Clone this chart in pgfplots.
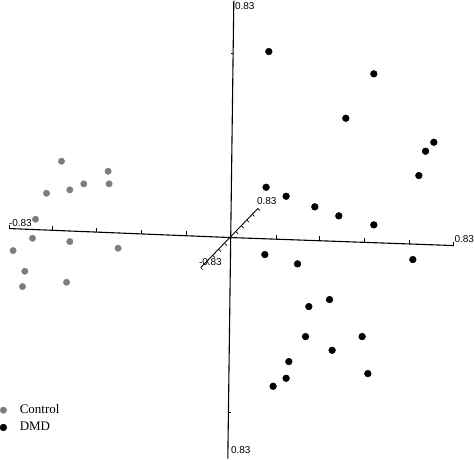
\documentclass[border=0pt]{standalone}
\usepackage{fontspec}
\setmainfont{Liberation Sans}
\newfontfamily\legfont{Liberation Serif}
\usepackage{pgfplots}
\pgfplotsset{compat=1.18}
\definecolor{ctrlgray}{RGB}{125,125,125}

\begin{document}
\begin{tikzpicture}
\begin{axis}[
  width=474pt, height=458pt, scale only axis,
  xmin=0, xmax=474, ymin=0, ymax=458,
  hide axis, clip=false,
  unbounded coords=jump,
  legend cell align=left,
  legend image code/.code={\draw[#1] plot coordinates {(0pt,0pt)};},
  legend style={draw=none, fill=none, at={(0.0,0.087)}, anchor=west,
    font=\legfont\fontsize{13}{15}\selectfont, row sep=3pt, column sep=11pt,
    inner xsep=0pt, inner ysep=0pt},
]
% samples
\addplot[only marks, mark=*, mark size=3.2pt, ctrlgray] coordinates {
(61.7,297.3) (108.3,287.3) (84,274.7) (109.3,274.7) (46.7,265.3) (70,268.7)
(35.7,239.3) (32.7,220.3) (70,217) (118.3,210.3) (13.3,208) (25,187.3)
(22.7,172) (66.7,176.3)
};
\addlegendentry{Control}
\addplot[only marks, mark=*, mark size=3.4pt, black] coordinates {
(269,407) (374,384.7) (346,340.3) (434,316.3) (425.7,307.3) (419,283)
(266.3,271.3) (286.3,262.3) (315,251.7) (339,242.7) (374,233.7) (265,204)
(297.7,194.7) (413,199) (329.7,159) (309,152) (305.7,122) (362.3,122)
(332.3,108.3) (289,97) (286.3,80.3) (273.3,72.3) (368,85)
};
\addlegendentry{DMD}

% axes of the projection
\addplot[black, line width=1.1pt, forget plot] coordinates {(10,230) (231,221) (454,213)};
\addplot[black, line width=1.1pt, forget plot] coordinates {(234,458) (228,0)};
\addplot[black, line width=0.9pt, forget plot] coordinates {(201,191) (258,250)};
% ticks on the horizontal axis
\addplot[black, line width=0.8pt, forget plot] coordinates {
(10,230) (10,234) (nan,nan)
(53,228.4) (53,232.4) (nan,nan)
(97,226.7) (97,230.7) (nan,nan)
(142,224.9) (142,228.9) (nan,nan)
(187,223.2) (187,227.2) (nan,nan)
(277,219.8) (277,223.8) (nan,nan)
(320,218.1) (320,222.1) (nan,nan)
(365,216.4) (365,220.4) (nan,nan)
(410,214.7) (410,218.7) (nan,nan)
(454,213) (454,217)
};
% ticks on the depth axis
\addplot[black, line width=0.7pt, forget plot] coordinates {
(236.4,226.8) (238.4,224.8) (nan,nan)
(241.8,232.6) (243.8,230.6) (nan,nan)
(247.2,238.4) (249.2,236.4) (nan,nan)
(252.6,244.2) (254.6,242.2) (nan,nan)
(258,250) (260,248) (nan,nan)
(225,215) (227,213) (nan,nan)
(219,209) (221,207) (nan,nan)
(213,203) (215,201) (nan,nan)
(207,197) (209,195) (nan,nan)
(201,191) (203,189)
};
% ticks on the vertical axis
\addplot[black, line width=0.8pt, forget plot] coordinates {
(233.3,405) (230.8,405) (nan,nan)
(228.6,46) (231.1,46)
};

% end labels
\node[anchor=west, inner sep=0pt, font=\fontsize{10}{11}\selectfont] at (axis cs:235,452) {0.83};
\node[anchor=west, inner sep=0pt, font=\fontsize{10}{11}\selectfont] at (axis cs:231,9) {0.83};
\node[anchor=west, inner sep=0pt, font=\fontsize{10}{11}\selectfont] at (axis cs:9,236) {-0.83};
\node[anchor=west, inner sep=0pt, font=\fontsize{10}{11}\selectfont] at (axis cs:454.5,220) {0.83};
\node[anchor=west, inner sep=0pt, font=\fontsize{10}{11}\selectfont] at (axis cs:257,258) {0.83};
\node[anchor=west, inner sep=0pt, font=\fontsize{10}{11}\selectfont] at (axis cs:199,197) {-0.83};
\end{axis}
\end{tikzpicture}
\end{document}
